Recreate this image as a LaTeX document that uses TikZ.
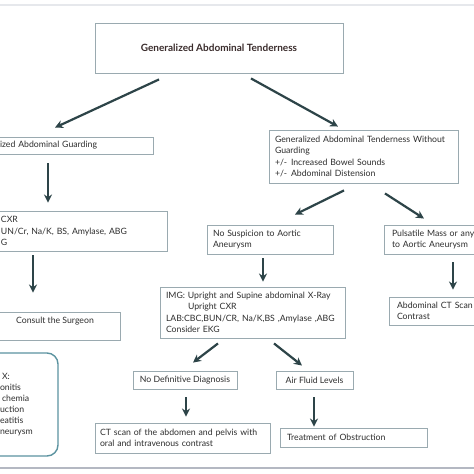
\documentclass[tikz,border=0pt]{standalone}
\usepackage{fontspec}
\setmainfont{Lato}
\usetikzlibrary{arrows.meta}
\definecolor{boxline}{HTML}{9AAAB0}
\definecolor{arrowc}{HTML}{2D4448}
\definecolor{txt}{HTML}{2E2E2E}
\definecolor{ttl}{HTML}{3A2C2C}
\definecolor{ddxline}{HTML}{5B93A0}
\definecolor{frametop}{HTML}{E6E8EC}
\definecolor{framebot}{HTML}{B4B8C2}
\tikzset{
  box/.style={draw=boxline, line width=0.9pt, fill=white, text=txt, font=\fontsize{8.7}{11.5}\selectfont,
    inner ysep=0pt, anchor=center},
  arr/.style={draw=arrowc, line width=2.2pt, -{Stealth[length=8pt,width=8pt,inset=2.5pt]}},
}
\begin{document}
\begin{tikzpicture}[x=1pt,y=-1pt]
\path[use as bounding box, fill=white] (0,0) rectangle (474,474);
\clip (0,0) rectangle (474,474);
\draw[frametop, line width=2pt] (0,5) -- (474,5);
\draw[framebot, line width=1.5pt] (0,468) -- (474,468);
% boxes
\node[box, minimum width=248pt, minimum height=50pt, align=center, text=ttl, font=\bfseries\fontsize{10}{12}\selectfont] (top) at (219,48) {Generalized Abdominal Tenderness};
\node[box, minimum width=163pt, minimum height=17pt, text width=143pt, inner xsep=10pt, align=left] (guard) at (71.5,145.5) {ized Abdominal Guarding};
\node[box, minimum width=189pt, minimum height=53pt, text width=177pt, inner xsep=6pt, align=left] (right) at (363.5,156.5)
  {Generalized Abdominal Tenderness Without\\Guarding\\\makebox[16pt][l]{+/-}Increased Bowel Sounds\\\makebox[16pt][l]{+/-}Abdominal Distension};
\node[box, minimum width=177pt, minimum height=40pt, text width=155pt, inner xsep=11pt, align=left] (lab) at (78.5,231)
  {CXR\\UN/Cr, Na/K, BS, Amylase, ABG\\G};
\node[box, minimum width=130pt, minimum height=28pt, align=center] (consult) at (55,326) {Consult the Surgeon\\\mbox{}};
\node[box, draw=ddxline, line width=1.4pt, rounded corners=11pt, minimum width=88pt, minimum height=103pt, text width=28pt, inner xsep=30pt, align=left, font=\fontsize{8.7}{11}\selectfont] (ddx) at (14,404.5)
  {\hspace*{2pt}X:\\onitis\\\hspace*{2pt}chemia\\uction\\eatitis\\neurysm};
\node[box, minimum width=126pt, minimum height=29pt, text width=114pt, inner xsep=6pt, align=left] (nosusp) at (270,239.5)
  {No Suspicion to Aortic\\Aneurysm};
\node[box, minimum width=106pt, minimum height=29pt, text width=90pt, inner xsep=8pt, align=left] (puls) at (437,239.5)
  {Pulsatile Mass or any\\to Aortic Aneurysm};
\node[box, minimum width=185pt, minimum height=51pt, text width=173pt, inner xsep=6pt, align=left] (img) at (252.5,312.5)
  {IMG: Upright and Supine abdominal X-Ray\\\hspace*{22pt}Upright CXR\\LAB:CBC,BUN/CR, Na/K,BS ,Amylase ,ABG\\Consider EKG};
\node[box, minimum width=101pt, minimum height=28pt, text width=85pt, inner xsep=8pt, align=left] (absct) at (439.5,311)
  {Abdominal CT Scan\\Contrast};
\node[box, minimum width=104pt, minimum height=18pt, align=center] (nodef) at (185,380) {No Definitive Diagnosis};
\node[box, minimum width=77pt, minimum height=18pt, align=center] (air) at (314.5,380) {Air Fluid Levels};
\node[box, minimum width=175pt, minimum height=30pt, text width=165pt, inner xsep=5pt, align=left] (ct) at (182.5,438)
  {CT scan of the abdomen and pelvis with\\oral and intravenous contrast};
\node[box, minimum width=147pt, minimum height=19pt, text width=133pt, inner xsep=7pt, align=left] (treat) at (353.5,437.5)
  {Treatment of Obstruction};
% arrows
\draw[arr] ([xshift=-60pt,yshift=-6pt]top.south) -- ([xshift=-16.5pt,yshift=9pt]guard.north);
\draw[arr] ([xshift=32pt,yshift=-5pt]top.south) -- ([xshift=-25.5pt,yshift=3pt]right.north);
\draw[arr] ([xshift=-23.5pt,yshift=-9pt]guard.south) -- ([xshift=-30.5pt,yshift=8pt]lab.north);
\draw[arr] ([xshift=-45.5pt,yshift=-4pt]lab.south) -- ([xshift=-22pt,yshift=19pt]consult.north);
\draw[arr] ([xshift=-19.5pt,yshift=-7pt]right.south) -- ([xshift=25pt,yshift=10pt]nosusp.north);
\draw[arr] ([xshift=21.5pt,yshift=-10pt]right.south) -- ([xshift=-13pt,yshift=6pt]puls.north);
\draw[arr] ([xshift=-7pt,yshift=-4pt]nosusp.south) -- ([xshift=10.5pt,yshift=5pt]img.north);
\draw[arr] ([xshift=16pt,yshift=-8pt]puls.south) -- ([xshift=13.5pt,yshift=7pt]absct.north);
\draw[arr] ([xshift=-34.5pt,yshift=-5pt]img.south) -- ([xshift=8pt,yshift=8pt]nodef.north);
\draw[arr] ([xshift=21.5pt,yshift=-5pt]img.south) -- ([xshift=-12.5pt,yshift=5pt]air.north);
\draw[arr] ([xshift=1pt,yshift=-8pt]nodef.south) -- ([xshift=3.5pt,yshift=6pt]ct.north);
\draw[arr] ([xshift=-0.5pt,yshift=-8pt]air.south) -- ([xshift=-39.5pt,yshift=1pt]treat.north);
\end{tikzpicture}
\end{document}
